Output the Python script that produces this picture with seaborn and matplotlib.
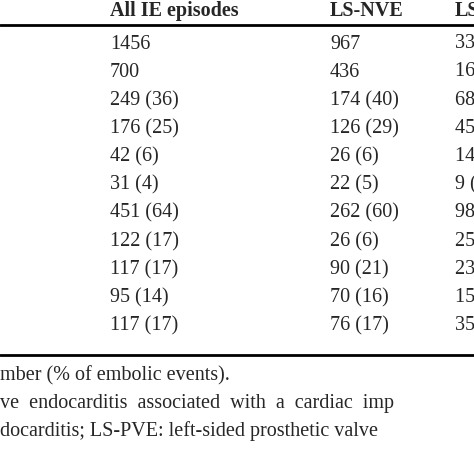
import matplotlib.pyplot as plt
import seaborn as sns

headers = ["All IE episodes", "LS-NVE", "LS-PVE"]
col_all = ["1456", "700", "249 (36)", "176 (25)", "42 (6)", "31 (4)",
           "451 (64)", "122 (17)", "117 (17)", "95 (14)", "117 (17)"]
col_nve = ["967", "436", "174 (40)", "126 (29)", "26 (6)", "22 (5)",
           "262 (60)", "26 (6)", "90 (21)", "70 (16)", "76 (17)"]
col_pve = ["339 (", "166 (", "68 (4", "45 (1", "14 (8", "9 (6)",
           "98 (", "25 (", "23 (", "15 (", "35 (2"]
notes = ["mber (% of embolic events).",
         "ve  endocarditis  associated  with  a  cardiac  imp",
         "docarditis; LS-PVE: left-sided prosthetic valve"]

sns.set_style("white")
plt.rcParams['font.family'] = ['Liberation Serif', 'DejaVu Serif']

fig = plt.figure(figsize=(4.74, 4.74), dpi=100)
ax = fig.add_axes([0, 0, 1, 1])
ax.set_xlim(0, 474)
ax.set_ylim(474, 0)
ax.axis("off")

fs = 14.5
xs = [72, 300, 433]
xs = [110, 330, 455]
for x, h in zip(xs, headers):
    ax.text(x, 11, h, fontsize=fs, fontweight="bold", va="center", ha="left")
ax.axhline(25, color="black", lw=2)

for i, (a, b, c) in enumerate(zip(col_all, col_nve, col_pve)):
    y = 44 + i * 28.2
    for x, v in zip(xs, (a, b, c)):
        ax.text(x, y, v, fontsize=fs, va="center", ha="left")

ax.axhline(355, color="black", lw=2)
for i, n in enumerate(notes):
    ax.text(0, 376 + i * 27.5, n, fontsize=fs, va="center", ha="left")

fig.savefig("out.png", dpi=100)
